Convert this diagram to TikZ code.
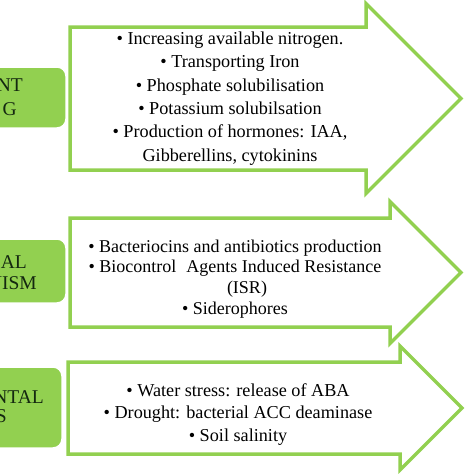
\documentclass[tikz,border=0pt]{standalone}
\usepackage{fontspec}
\setmainfont{Liberation Serif}
\usetikzlibrary{calc}
\definecolor{leafgreen}{RGB}{146,208,80}
\definecolor{boxgreen}{RGB}{146,208,80}
\definecolor{darkleaf}{RGB}{20,40,16}
\tikzset{
  arrowline/.style={draw=leafgreen, line width=3.5pt, fill=white, line join=miter},
  headbox/.style={draw=white, line width=1.5pt, fill=boxgreen, rounded corners=9pt},
  headlab/.style={anchor=east, inner sep=0pt, text=darkleaf,
                  font=\fontsize{19.5}{21}\selectfont},
  itemlist/.style={align=center, inner sep=0pt, text=black},
}
% left end, top, bottom, neck x, tip x
\newcommand{\benefitarrow}[5]{%
  \draw[arrowline] (#1,#2) -- (#4,#2)
    -- (#4,{(#2+#3)/2-(#5-#4)}) -- (#5,{(#2+#3)/2})
    -- (#4,{(#2+#3)/2+(#5-#4)}) -- (#4,#3) -- (#1,#3) -- cycle;}

\begin{document}
\begin{tikzpicture}[x=1pt,y=-1pt]
  \path[use as bounding box] (0,0) rectangle (474,474);

  % arrows
  \benefitarrow{70}{27}{170}{366}{461}
  \benefitarrow{70}{218}{327}{390}{461}
  \benefitarrow{68}{362}{454}{400}{462}

  % left boxes
  \draw[headbox] (-12,67) rectangle (66,128);
  \draw[headbox] (-12,239) rectangle (66,303);
  \draw[headbox] (-12,367) rectangle (62,448);

  \node[headlab] (growtop) at (23,85) {NT};
  \node[headlab] (growbot) at (17,109) {G};
  \node[headlab] (biotop) at (27,262) {AL};
  \node[headlab] (biobot) at (37,283) {NISM};
  \node[headlab] (envtop) at (44,397) {NTAL};
  \node[headlab] (envbot) at (7,416) {S};

  % bullet texts
  \node[itemlist, font=\fontsize{18.2}{23.4}\selectfont] (growitems) at (230,98.5)
    {\textbullet\ Increasing available nitrogen.\\
     \textbullet\ Transporting Iron\\
     \textbullet\ Phosphate solubilisation\\
     \textbullet\ Potassium solubilsation\\
     \textbullet\ Production of hormones: IAA,\\
     Gibberellins, cytokinins};
  \node[itemlist, font=\fontsize{18}{20.7}\selectfont] (bioitems) at (235,279)
    {\textbullet\ Bacteriocins and antibiotics production\\
     \textbullet\ Biocontrol\hspace{0.3em} Agents Induced Resistance\\
     \hspace*{24pt}(ISR)\\
     \textbullet\ Siderophores};
  \node[itemlist, font=\fontsize{18.2}{22.5}\selectfont] (envitems) at (238,414.5)
    {\textbullet\ Water stress: release of ABA\\
     \textbullet\ Drought: bacterial ACC deaminase\\
     \textbullet\ Soil salinity};
\end{tikzpicture}
\end{document}
